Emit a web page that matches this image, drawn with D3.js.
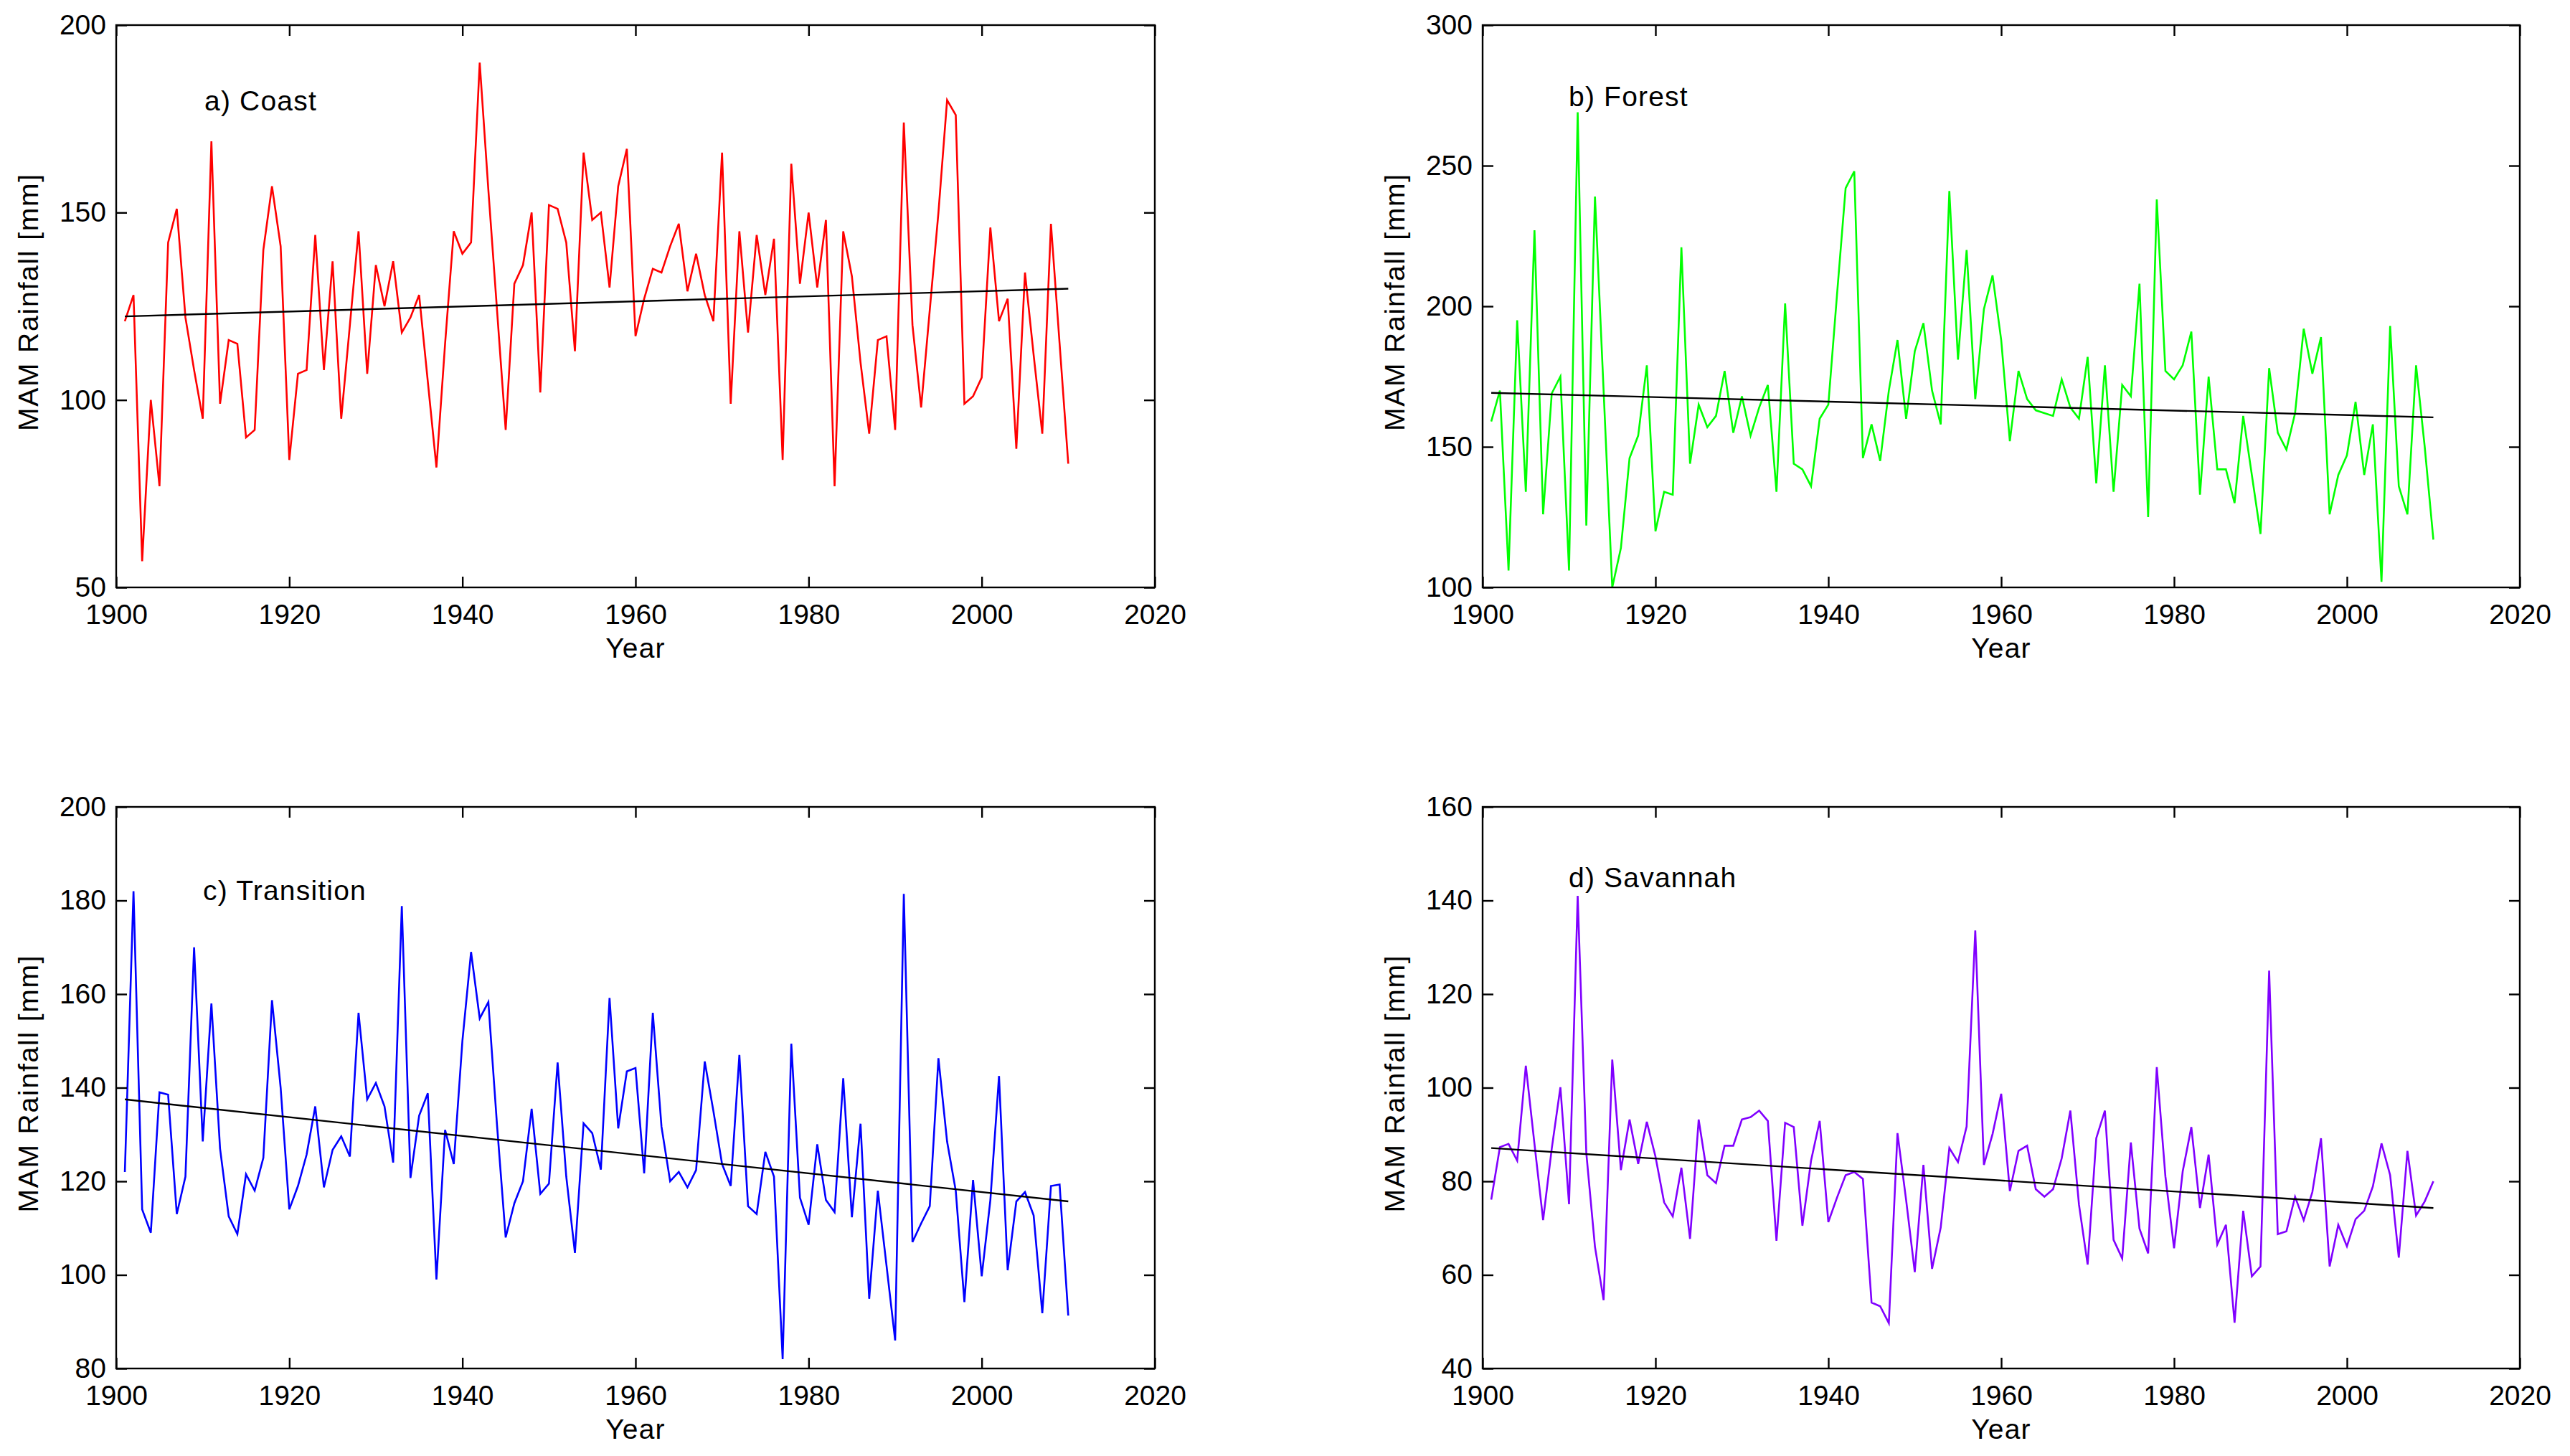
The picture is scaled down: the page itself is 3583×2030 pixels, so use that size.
<!DOCTYPE html>
<html>
<head>
<meta charset="utf-8">
<script src="https://cdn.jsdelivr.net/npm/d3@7"></script>
<style>
  body { margin: 0; background: #fff; }
  svg { display: block; }
  text { font-family: "Liberation Sans", Arial, Helvetica, sans-serif; }
</style>
</head>
<body>
<svg id="chart"></svg>
<script>
// MAM rainfall series 1901-2010
const years = d3.range(1901, 2011);

const coast = [121,128,57,100,77,142,151,122,108,95,
  169,99,116,115,90,92,140,157,141,84,
  107,108,144,108,137,95,120,145,107,136,
  125,137,118,122,128,105,82,115,145,139,
  142,190,156,124,92,131,136,150,102,152,
  151,142,113,166,148,150,130,157,167,117,
  127,135,134,141,147,129,139,128,121,166,
  99,145,118,144,128,143,84,163,131,150,
  130,148,77,145,133,110,91,116,117,92,
  174,120,98,124,150,180,176,99,101,106,
  146,121,127,87,134,112,91,147,115,83];

const forest = [159,170,106,195,134,227,126,169,175,106,
  269,122,239,170,100,114,146,154,179,120,
  134,133,221,144,165,157,161,177,155,168,
  154,164,172,134,201,144,142,136,160,165,
  204,242,248,146,158,145,170,188,160,184,
  194,170,158,241,181,220,167,199,211,188,
  152,177,167,163,162,161,174,164,160,182,
  137,179,134,172,168,208,125,238,177,174,
  179,191,133,175,142,142,130,161,140,119,
  178,155,149,162,192,176,189,126,140,147,
  166,140,158,102,193,136,126,179,150,117];

const transition = [122,182,114,109,139,138.5,113,121,170,128.5,
  158,127,112.5,108.7,121.5,118,125,158.7,140,114,
  119,125.7,136,118.7,126.7,129.6,125.3,156,137.5,141,
  136,124,178.8,120.7,134,138.8,99,131,123.7,150,
  169,154.8,158.3,132,108,115.3,120,135.5,117.3,119.5,
  145.4,121,104.7,132.4,130.3,122.5,159.2,131.3,143.5,144.2,
  121.7,156,131.7,120,122,118.7,122.4,145.6,135,123.7,
  119,147,114.7,113,126.3,121,82,149.4,116.5,110.7,
  127.9,116,113.4,142,112.3,132.3,94.9,118,102,86,
  181.4,107,111,114.7,146.3,128.5,118,94.2,120.3,99.7,
  116,142.5,101,115.7,117.7,112.7,91.8,119,119.3,91.3];

const savannah = [76.1,87.3,88,84.4,104.7,88,71.7,87,100.1,75.1,
  141,86,66,54.6,106,82.4,93.2,83.7,92.7,85.3,
  75.5,72.5,82.9,67.7,93.2,81.3,79.6,87.6,87.6,93.2,
  93.7,95.1,92.9,67.3,92.5,91.6,70.5,84.4,92.9,71.3,
  76.5,81.3,82,80.5,54.1,53.3,49.7,90.3,76,60.6,
  83.5,61.3,70.1,87.1,84.1,91.7,133.6,83.5,90.1,98.7,
  77.9,86.5,87.6,78.3,76.7,78.3,84.9,95.1,75,62.2,
  89.2,95.1,67.5,63.5,88.3,69.9,64.6,104.4,81,65.7,
  82.1,91.6,74.3,85.7,66.5,70.7,49.8,73.7,59.7,61.8,
  125,68.7,69.3,76.7,71.7,77.7,89.2,61.8,70.7,66.1,
  71.9,73.7,78.9,88.1,81.3,63.7,86.5,72.7,75.7,80];

// linear trend end points (1901, 2010)
const trendYears = [1901, 2010];
const trendCoast = [122.3, 129.7];
const trendForest = [169.2, 160.5];
const trendTransition = [137.5, 115.7];
const trendSavannah = [87.1, 74.3];

const panelTitles = ["a) Coast", "b) Forest", "c) Transition", "d) Savannah"];
const panelColors = ["#ff0000", "#00ff00", "#0000ff", "#8000ff"];
const yDomains = [[50, 200], [100, 300], [80, 200], [40, 160]];
const yTicks = [[50, 100, 150, 200], [100, 150, 200, 250, 300],
  [80, 100, 120, 140, 160, 180, 200], [40, 60, 80, 100, 120, 140, 160]];
const xTicks = [1900, 1920, 1940, 1960, 1980, 2000, 2020];

const W = 3583, H = 2030;
const FONT = 39;
const colLeft = [162, 2067], colRight = [1610, 3513];
const rowTop = [35, 1125], rowBottom = [819, 1908];
const titleOffset = [[123, 119], [120, 113], [121, 130], [120, 112]];

const series = [coast, forest, transition, savannah];
const trends = [trendCoast, trendForest, trendTransition, trendSavannah];

const svg = d3.select("#chart").attr("width", W).attr("height", H);
svg.append("rect").attr("width", W).attr("height", H).attr("fill", "#fff");

function styleAxis(g) {
  g.select(".domain").remove();
  g.selectAll(".tick line").attr("stroke", "#000").attr("stroke-width", 2.4);
  g.selectAll(".tick text")
    .attr("fill", "#000")
    .style("font-family", '"Liberation Sans", Arial, Helvetica, sans-serif')
    .style("font-size", FONT + "px");
}

series.forEach((vals, i) => {
  const col = i % 2, row = Math.floor(i / 2);
  const left = colLeft[col], right = colRight[col];
  const top = rowTop[row], bottom = rowBottom[row];

  const x = d3.scaleLinear().domain([1900, 2020]).range([left, right]);
  const y = d3.scaleLinear().domain(yDomains[i]).range([bottom, top]);

  const g = svg.append("g");

  // data line
  const line = d3.line().x((d, k) => x(years[k])).y(d => y(d));
  g.append("path")
    .datum(vals)
    .attr("fill", "none")
    .attr("stroke", panelColors[i])
    .attr("stroke-width", 2.6)
    .attr("stroke-linejoin", "miter")
    .attr("d", line);

  // trend line
  const tline = d3.line().x((d, k) => x(trendYears[k])).y(d => y(d));
  g.append("path")
    .datum(trends[i])
    .attr("fill", "none")
    .attr("stroke", "#000")
    .attr("stroke-width", 2.4)
    .attr("d", tline);

  // axes, ticks pointing inward on all four sides
  g.append("g").attr("transform", `translate(0,${bottom})`)
    .call(d3.axisBottom(x).tickValues(xTicks).tickFormat(d3.format("d"))
      .tickSizeInner(-15).tickSizeOuter(0).tickPadding(23))
    .call(styleAxis);
  g.append("g").attr("transform", `translate(0,${top})`)
    .call(d3.axisTop(x).tickValues(xTicks).tickFormat("")
      .tickSizeInner(-15).tickSizeOuter(0))
    .call(styleAxis);
  g.append("g").attr("transform", `translate(${left},0)`)
    .call(d3.axisLeft(y).tickValues(yTicks[i]).tickFormat(d3.format("d"))
      .tickSizeInner(-15).tickSizeOuter(0).tickPadding(14))
    .call(styleAxis);
  g.append("g").attr("transform", `translate(${right},0)`)
    .call(d3.axisRight(y).tickValues(yTicks[i]).tickFormat("")
      .tickSizeInner(-15).tickSizeOuter(0))
    .call(styleAxis);

  // frame
  g.append("rect")
    .attr("x", left).attr("y", top)
    .attr("width", right - left).attr("height", bottom - top)
    .attr("fill", "none").attr("stroke", "#000").attr("stroke-width", 2.4);

  // panel title
  g.append("text")
    .attr("x", left + titleOffset[i][0])
    .attr("y", top + titleOffset[i][1])
    .attr("font-size", FONT)
    .attr("letter-spacing", 1.2)
    .attr("fill", "#000")
    .text(panelTitles[i]);

  // axis titles
  g.append("text")
    .attr("x", (left + right) / 2)
    .attr("y", bottom + 98)
    .attr("text-anchor", "middle")
    .attr("font-size", FONT)
    .attr("letter-spacing", 1.2)
    .text("Year");

  g.append("text")
    .attr("transform", `translate(${left - 109},${(top + bottom) / 2 - 6}) rotate(-90)`)
    .attr("text-anchor", "middle")
    .attr("font-size", FONT)
    .attr("letter-spacing", 1.8)
    .text("MAM Rainfall [mm]");
});
</script>
</body>
</html>
